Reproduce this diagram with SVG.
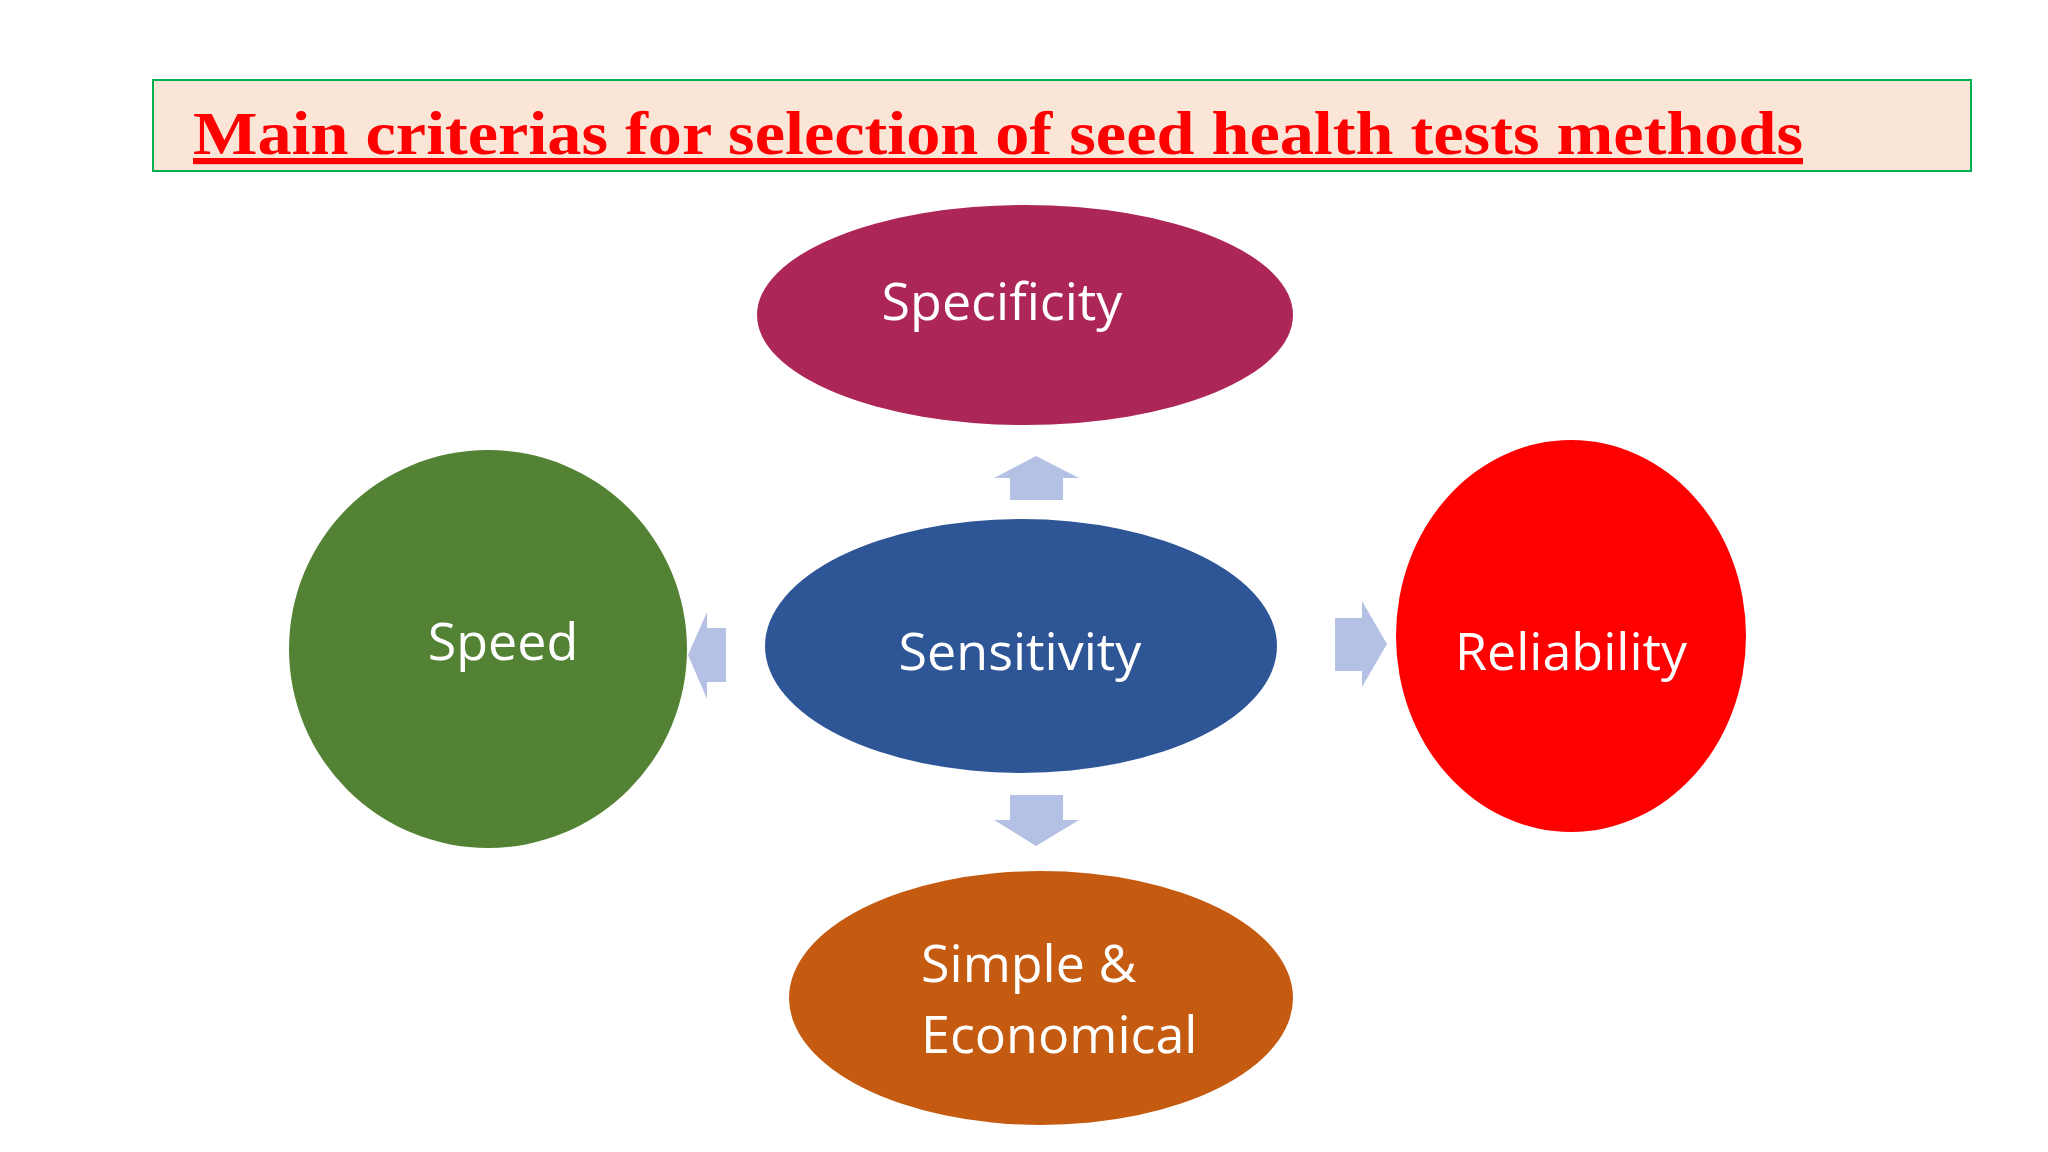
<svg xmlns="http://www.w3.org/2000/svg" width="2048" height="1152" viewBox="0 0 2048 1152">
<style>
.lbl{font-family:"Open Sans","Noto Sans",sans-serif;font-size:52px;fill:#fff}
.arr{fill:#B4C1E4}
</style>
<rect width="2048" height="1152" fill="#fff"/>
<g id="title">
<rect x="153" y="80" width="1818" height="91" fill="#FBE5D6" stroke="#00B050" stroke-width="2"/>
<text x="193" y="154" font-family="Liberation Serif,serif" font-weight="bold" font-size="62" fill="#FF0000" text-decoration="underline" textLength="1610" lengthAdjust="spacingAndGlyphs">Main criterias for selection of seed health tests methods</text>
</g>
<g id="specificity"><ellipse cx="1025" cy="315" rx="268" ry="110" fill="#AC2658"/><text class="lbl" x="1002" y="320" text-anchor="middle">Specificity</text></g>
<g id="sensitivity"><ellipse cx="1021" cy="646" rx="256" ry="127" fill="#2E5596"/><text class="lbl" x="1020" y="670" text-anchor="middle">Sensitivity</text></g>
<g id="speed"><circle cx="488" cy="649" r="199" fill="#548235"/><text class="lbl" x="503" y="660" text-anchor="middle">Speed</text></g>
<g id="reliability"><ellipse cx="1571" cy="636" rx="175" ry="196" fill="#FF0000"/><text class="lbl" x="1571" y="670" text-anchor="middle">Reliability</text></g>
<g id="simple"><ellipse cx="1041" cy="998" rx="252" ry="127" fill="#C55A11"/><text class="lbl" x="921" y="982">Simple &amp;</text><text class="lbl" x="921" y="1053">Economical</text></g>
<g id="connectors">
<polygon class="arr" points="1036,456 1079,478 1063,478 1063,500 1010,500 1010,478 994,478"/>
<polygon class="arr" points="1010,795 1063,795 1063,820 1079,820 1036,846 994,820 1010,820"/>
<polygon class="arr" points="688,655 707,612 707,628 726,628 726,682 707,682 707,699"/>
<polygon class="arr" points="1335,618 1362,618 1362,601 1387,644 1362,687 1362,671 1335,671"/>
</g>
</svg>
